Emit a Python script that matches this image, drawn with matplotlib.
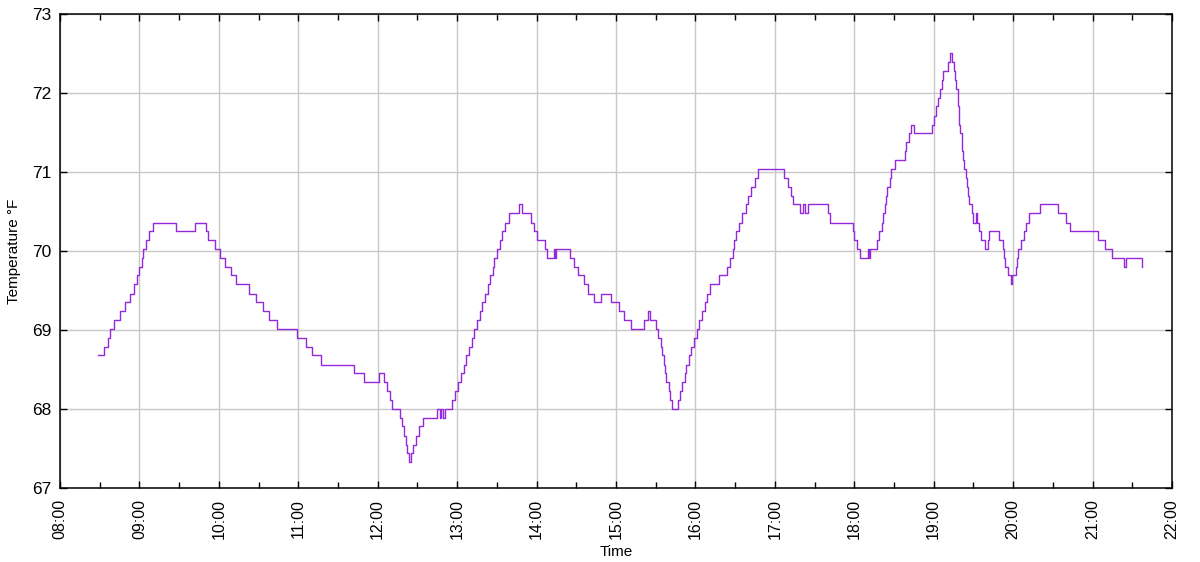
import matplotlib
matplotlib.use('Agg')
import matplotlib.pyplot as plt
import matplotlib.dates as mdates
import pandas as pd

# моменты смены показаний (ЧЧ:ММ) и новое значение, °F
times = [
    '08:29', '08:33', '08:36', '08:38', '08:41', '08:45', '08:49', '08:53', '08:56', '08:58',
    '09:00', '09:02', '09:03', '09:05', '09:07', '09:10', '09:28', '09:42', '09:50', '09:52',
    '09:57', '10:01', '10:05', '10:09', '10:13', '10:23', '10:28', '10:33', '10:38', '10:44',
    '10:59', '11:06', '11:10', '11:17', '11:42', '11:50', '12:01', '12:05', '12:07', '12:09',
    '12:11', '12:13', '12:17', '12:18', '12:20', '12:21', '12:22', '12:24', '12:25', '12:27',
    '12:29', '12:31', '12:34', '12:45', '12:47', '12:48', '12:49', '12:51', '12:56', '12:58',
    '13:01', '13:03', '13:05', '13:07', '13:09', '13:11', '13:13', '13:15', '13:17', '13:19',
    '13:21', '13:23', '13:25', '13:27', '13:28', '13:30', '13:32', '13:34', '13:36', '13:39',
    '13:47', '13:49', '13:56', '13:58', '14:00', '14:06', '14:08', '14:13', '14:14', '14:15',
    '14:25', '14:28', '14:31', '14:36', '14:39', '14:43', '14:49', '14:56', '15:02', '15:06',
    '15:11', '15:21', '15:24', '15:26', '15:30', '15:32', '15:34', '15:35', '15:36', '15:37',
    '15:38', '15:40', '15:41', '15:42', '15:47', '15:48', '15:50', '15:52', '15:53', '15:55',
    '15:57', '15:59', '16:01', '16:03', '16:05', '16:07', '16:09', '16:11', '16:18', '16:24',
    '16:26', '16:28', '16:29', '16:31', '16:33', '16:35', '16:38', '16:40', '16:42', '16:45',
    '16:47', '17:07', '17:10', '17:12', '17:14', '17:19', '17:21', '17:23', '17:25', '17:40',
    '17:42', '17:59', '18:00', '18:02', '18:04', '18:10', '18:11', '18:12', '18:17', '18:19',
    '18:21', '18:22', '18:23', '18:24', '18:25', '18:27', '18:28', '18:31', '18:38', '18:39',
    '18:41', '18:43', '18:45', '18:59', '19:00', '19:02', '19:03', '19:05', '19:06', '19:07',
    '19:11', '19:12', '19:14', '19:15', '19:16', '19:17', '19:18', '19:19', '19:20', '19:21',
    '19:22', '19:23', '19:24', '19:25', '19:26', '19:27', '19:29', '19:30', '19:32', '19:33',
    '19:34', '19:36', '19:39', '19:41', '19:42', '19:49', '19:52', '19:53', '19:54', '19:56',
    '19:58', '19:59', '20:02', '20:03', '20:04', '20:06', '20:08', '20:10', '20:12', '20:20',
    '20:34', '20:40', '20:43', '21:04', '21:09', '21:15', '21:24', '21:25', '21:37',
]
temps = [
    68.68, 68.79, 68.90, 69.01, 69.13, 69.24, 69.35, 69.46, 69.58, 69.69,
    69.80, 69.91, 70.03, 70.14, 70.25, 70.36, 70.25, 70.36, 70.25, 70.14,
    70.03, 69.91, 69.80, 69.69, 69.58, 69.46, 69.35, 69.24, 69.13, 69.01,
    68.90, 68.79, 68.68, 68.56, 68.45, 68.34, 68.45, 68.34, 68.23, 68.11,
    68.00, 68.00, 67.89, 67.78, 67.66, 67.55, 67.44, 67.33, 67.44, 67.55,
    67.66, 67.78, 67.89, 68.00, 67.89, 68.00, 67.89, 68.00, 68.11, 68.23,
    68.34, 68.45, 68.56, 68.68, 68.79, 68.90, 69.01, 69.13, 69.24, 69.35,
    69.46, 69.58, 69.69, 69.80, 69.91, 70.03, 70.14, 70.25, 70.36, 70.48,
    70.59, 70.48, 70.36, 70.25, 70.14, 70.03, 69.91, 70.03, 69.91, 70.03,
    69.91, 69.80, 69.69, 69.58, 69.46, 69.35, 69.46, 69.35, 69.24, 69.13,
    69.01, 69.13, 69.24, 69.13, 69.01, 68.90, 68.79, 68.68, 68.56, 68.45,
    68.34, 68.23, 68.11, 68.00, 68.11, 68.23, 68.34, 68.45, 68.56, 68.68,
    68.79, 68.90, 69.01, 69.13, 69.24, 69.35, 69.46, 69.58, 69.69, 69.80,
    69.91, 70.03, 70.14, 70.25, 70.36, 70.48, 70.59, 70.70, 70.81, 70.93,
    71.04, 70.93, 70.81, 70.70, 70.59, 70.48, 70.59, 70.48, 70.59, 70.48,
    70.36, 70.25, 70.14, 70.03, 69.91, 70.03, 69.91, 70.03, 70.14, 70.25,
    70.36, 70.48, 70.59, 70.70, 70.81, 70.93, 71.04, 71.15, 71.26, 71.38,
    71.49, 71.60, 71.49, 71.60, 71.71, 71.83, 71.94, 72.05, 72.16, 72.28,
    72.39, 72.50, 72.39, 72.28, 72.16, 72.05, 71.83, 71.60, 71.49, 71.26,
    71.15, 71.04, 70.93, 70.81, 70.70, 70.59, 70.48, 70.36, 70.48, 70.36,
    70.25, 70.14, 70.03, 70.14, 70.25, 70.14, 70.03, 69.91, 69.80, 69.69,
    69.58, 69.69, 69.80, 69.91, 70.03, 70.14, 70.25, 70.36, 70.48, 70.59,
    70.48, 70.36, 70.25, 70.14, 70.03, 69.91, 69.80, 69.91, 69.80,
]

plt.rcParams['font.family'] = ['Liberation Sans', 'DejaVu Sans']

t = pd.to_datetime(['2020-01-01 ' + s for s in times])
x_start = pd.Timestamp('2020-01-01 08:00')
x_end = pd.Timestamp('2020-01-01 22:00')

fig = plt.figure(figsize=(12, 5.62), dpi=100)
ax = fig.add_axes([0.05, 0.1317, 0.9267, 0.8434])

ax.plot(t, temps, drawstyle='steps-post', color='#9428dc', lw=1.0)

ax.set_xlim(x_start, x_end)
ax.set_ylim(67, 73)
ax.xaxis.set_major_locator(mdates.HourLocator())
ax.xaxis.set_minor_locator(mdates.MinuteLocator(byminute=[30]))
ax.xaxis.set_major_formatter(mdates.DateFormatter('%H:%M'))
ax.set_yticks(range(67, 74))

ax.grid(True, which='major', color='#c8c8c8', lw=1.0)
ax.tick_params(which='both', direction='in', top=True, right=True, width=1)
ax.tick_params(which='major', length=5)
ax.tick_params(which='minor', length=4)
ax.tick_params(axis='x', labelrotation=90, labelsize=11.5, pad=8)
ax.tick_params(axis='y', labelsize=12.5, pad=6)
for s in ax.spines.values():
    s.set_linewidth(1.1)

ax.set_xlabel('Time', fontsize=11, labelpad=4)
ax.set_ylabel('Temperature °F', fontsize=11, labelpad=8)

fig.savefig('out.png', dpi=100)
